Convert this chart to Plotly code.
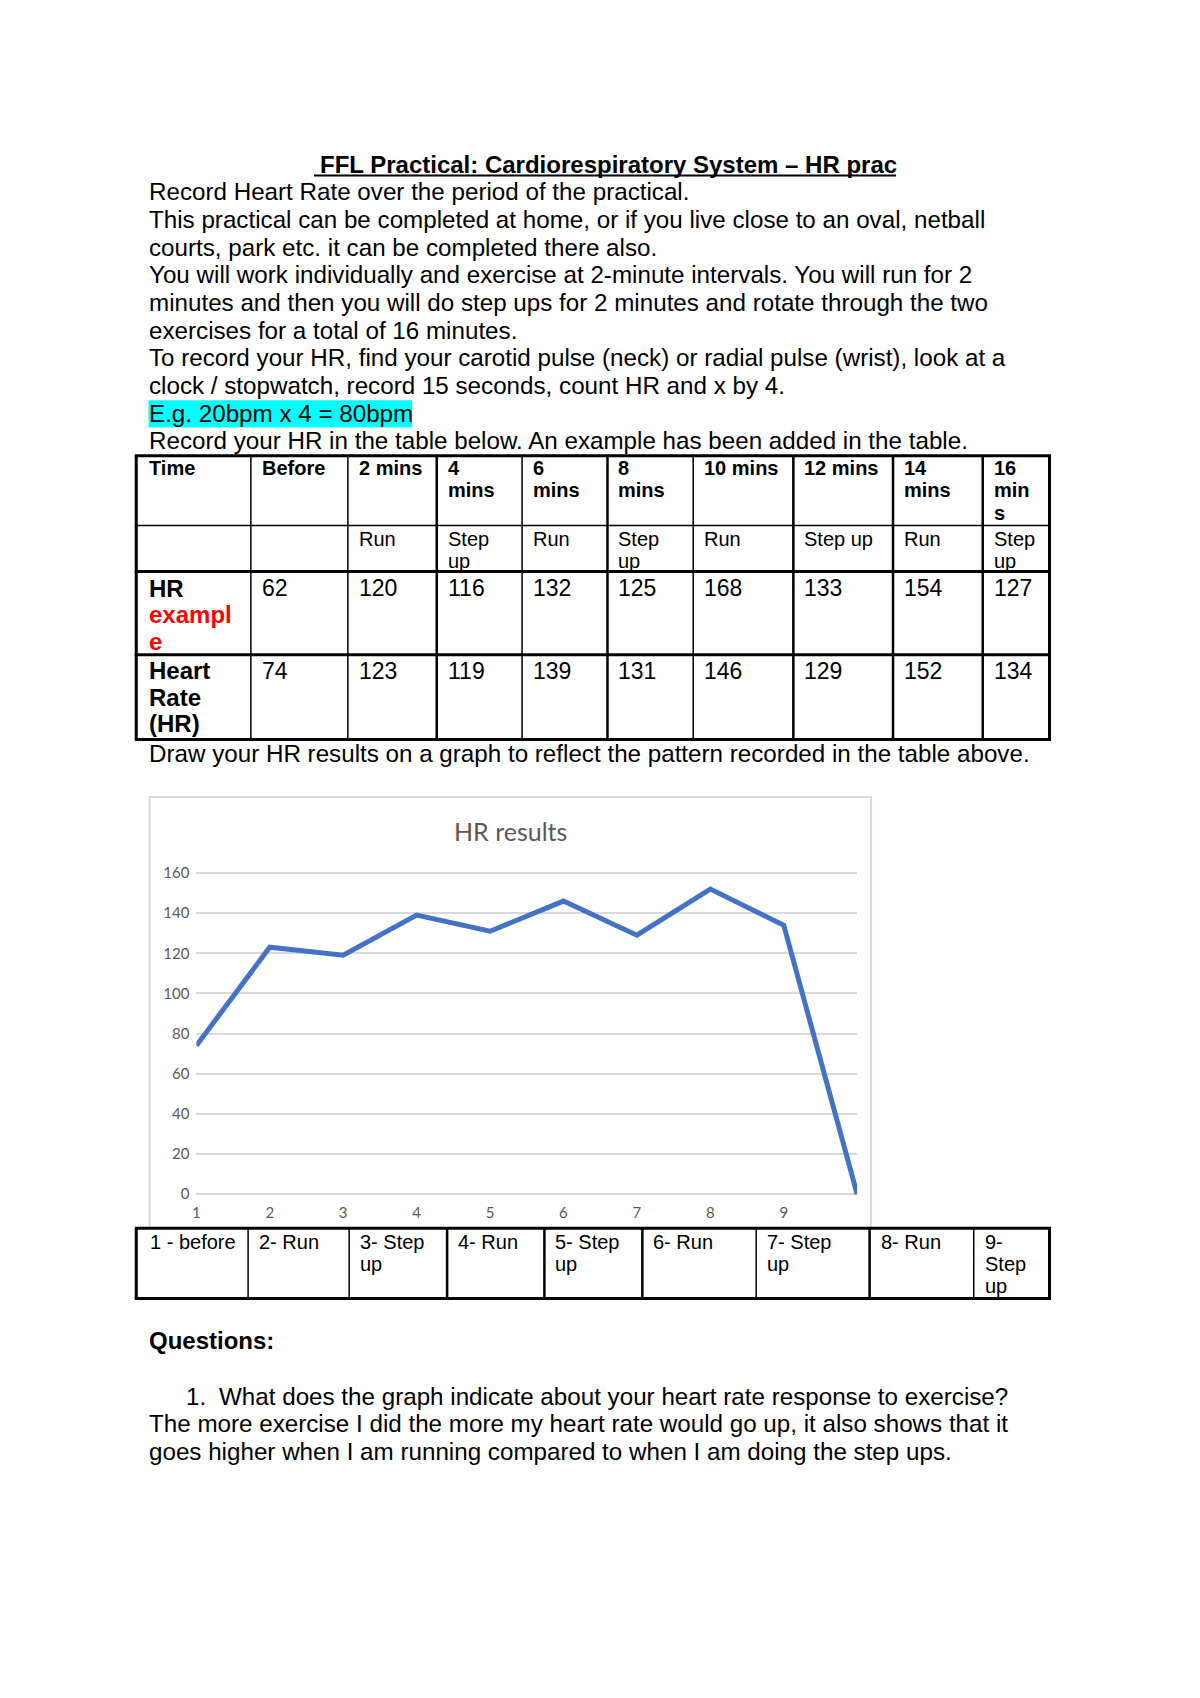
import plotly.graph_objects as go

W, H = 1200, 1698

# ---------------- data ----------------
time_headers = [["Time"], ["Before"], ["2 mins"], ["4", "mins"], ["6", "mins"], ["8", "mins"],
                ["10 mins"], ["12 mins"], ["14", "mins"], ["16", "min", "s"]]
activity = [[], [], ["Run"], ["Step", "up"], ["Run"], ["Step", "up"], ["Run"], ["Step up"], ["Run"], ["Step", "up"]]
example_hr = [62, 120, 116, 132, 125, 168, 133, 154, 127]
heart_rate = [74, 123, 119, 139, 131, 146, 129, 152, 134]

chart_x = [1, 2, 3, 4, 5, 6, 7, 8, 9, 10]
chart_hr = [74, 123, 119, 139, 131, 146, 129, 152, 134, 0]
chart_ticks = [1, 2, 3, 4, 5, 6, 7, 8, 9]
chart_ticktext = ["1", "2", "3", "4", "5", "6", "7", "8", "9"]
y_ticks = [0, 20, 40, 60, 80, 100, 120, 140, 160]

stage_labels = [["1 - before"], ["2- Run"], ["3- Step", "up"], ["4- Run"], ["5- Step", "up"],
                ["6- Run"], ["7- Step", "up"], ["8- Run"], ["9-", "Step", "up"]]

title_text = "FFL Practical: Cardiorespiratory System \u2013 HR prac"
body_lines = [
    "Record Heart Rate over the period of the practical.",
    "This practical can be completed at home, or if you live close to an oval, netball",
    "courts, park etc. it can be completed there also.",
    "You will work individually and exercise at 2-minute intervals. You will run for 2",
    "minutes and then you will do step ups for 2 minutes and rotate through the two",
    "exercises for a total of 16 minutes.",
    "To record your HR, find your carotid pulse (neck) or radial pulse (wrist), look at a",
    "clock / stopwatch, record 15 seconds, count HR and x by 4.",
    "E.g. 20bpm x 4 = 80bpm",
    "Record your HR in the table below. An example has been added in the table.",
]
draw_line = "Draw your HR results on a graph to reflect the pattern recorded in the table above."
question = "What does the graph indicate about your heart rate response to exercise?"
answer_lines = [
    "The more exercise I did the more my heart rate would go up, it also shows that it",
    "goes higher when I am running compared to when I am doing the step ups.",
]

# ---------------- helpers ----------------
BODY = "Liberation Sans, Arial, sans-serif"
CHART_FONT = "Lato, Carlito, sans-serif"
annotations = []
shapes = []


def px(x):
    return x / W


def py(y):
    return 1 - y / H


def txt(x, base, s, size, color="#000000", family=BODY, anchor="left", asc=0.3465):
    annotations.append(dict(
        x=px(x), y=py(base - asc * size), xref="paper", yref="paper", text=s,
        showarrow=False, xanchor=anchor, yanchor="middle", borderpad=0, borderwidth=0,
        font=dict(size=size, color=color, family=family)))


def hline(x0, x1, y, w, color="#000000"):
    shapes.append(dict(type="line", xref="paper", yref="paper", x0=px(x0), x1=px(x1),
                       y0=py(y), y1=py(y), line=dict(color=color, width=w)))


def vline(x, y0, y1, w, color="#000000"):
    shapes.append(dict(type="line", xref="paper", yref="paper", x0=px(x), x1=px(x),
                       y0=py(y0), y1=py(y1), line=dict(color=color, width=w)))


def rect(x0, y0, x1, y1, w=0, color="#000000", fill=None, layer="above"):
    d = dict(type="rect", xref="paper", yref="paper", x0=px(x0), x1=px(x1),
             y0=py(y1), y1=py(y0), layer=layer, line=dict(color=color, width=w))
    if fill:
        d["fillcolor"] = fill
    shapes.append(d)


LEFT = 145.0
BFS = 24.2
LS = 27.9

# ---------------- heading text ----------------
txt(317.5, 166, "<b>" + title_text + "</b>", 24)
hline(311, 895, 169, 2)

rect(145, 395.7, 409.5, 423.3, w=0, color="rgba(0,0,0,0)", fill="#00FFFF", layer="below")
for i, line in enumerate(body_lines):
    txt(LEFT, 194 + i * LS, line, BFS)

# ---------------- table 1 ----------------
cols1 = [132.7, 247.7, 345, 434.2, 519.8, 605.5, 691.5, 792, 892, 982, 1049]
rows1 = [451.7, 522, 568.5, 652.5, 738]
col_w1 = [3, 1.5, 1.5, 2.5, 1.5, 2.5, 1.5, 2.5, 2.5, 2.5, 3]
row_w1 = [3, 1.5, 3, 3, 3]
for x, w in zip(cols1, col_w1):
    vline(x, rows1[0], rows1[-1], w)
for y, w in zip(rows1, row_w1):
    hline(cols1[0] - 1.5, cols1[-1] + 1.5, y, w)

hdr_base = [471, 493.7, 516.4]
act_base = [542.6, 565.3]
r2_base = [593.5, 620.5, 647.5]
r3_base = [676.5, 703.5, 730.5]


def cell_x(cols, j):
    return cols[j] + (13 if j == 0 else 11)


for j, lines in enumerate(time_headers):
    for k, s in enumerate(lines):
        txt(cell_x(cols1, j), hdr_base[k], "<b>" + s + "</b>", 20)
for j, lines in enumerate(activity):
    for k, s in enumerate(lines):
        txt(cell_x(cols1, j), act_base[k], s, 20)

txt(cell_x(cols1, 0), r2_base[0], "<b>HR</b>", 24)
txt(cell_x(cols1, 0), r2_base[1], "<b>exampl</b>", 24, color="#FF0000")
txt(cell_x(cols1, 0), r2_base[2], "<b>e</b>", 24, color="#FF0000")
for k, s in enumerate(["Heart", "Rate", "(HR)"]):
    txt(cell_x(cols1, 0), r3_base[k], "<b>" + s + "</b>", 24)
for j, v in enumerate(example_hr):
    txt(cell_x(cols1, j + 1), r2_base[0], str(v), 23)
for j, v in enumerate(heart_rate):
    txt(cell_x(cols1, j + 1), r3_base[0], str(v), 23)

txt(LEFT, 761, draw_line, BFS)

# ---------------- chart frame & title ----------------
rect(146, 796, 870, 1231, w=2, color="#D9D9D9", layer="below")
txt(508, 830, "HR results", 25, color="#595959", family=CHART_FONT, anchor="center", asc=0.0)

# ---------------- table 2 ----------------
cols2 = [132.7, 244.9, 346.3, 444.6, 542.2, 640.5, 754.7, 868.5, 973, 1049]
col_w2 = [3, 1.5, 1.5, 2.5, 2.5, 2.5, 1.5, 2.5, 1.5, 3]
rows2 = [1231, 1302]
for x, w in zip(cols2, col_w2):
    vline(x, rows2[0], rows2[-1], w)
for y in rows2:
    hline(cols2[0] - 1.5, cols2[-1] + 1.5, y, 3)
t2_base = [1251.5, 1274, 1296.5]
for j, lines in enumerate(stage_labels):
    for k, s in enumerate(lines):
        txt(cols2[j] + (13.5 if j == 0 else 11), t2_base[k], s, 20)

# ---------------- questions ----------------
txt(LEFT, 1353, "<b>Questions:</b>", 24)
txt(182.5, 1409, "1.", BFS)
txt(216, 1409, question, BFS)
for i, line in enumerate(answer_lines):
    txt(LEFT, 1436.5 + i * LS, line, BFS)

# ---------------- chart trace ----------------
fig = go.Figure()
fig.add_trace(go.Scatter(
    x=chart_x, y=chart_hr, mode="lines", cliponaxis=False,
    line=dict(color="#4472C4", width=5), hoverinfo="skip"))

# y range padded slightly so that the 0 and 160 gridlines are drawn
YPAD = 0.8
ppu = (1196.7 - 872.7) / 160.0
fig.update_layout(
    width=W, height=H, margin=dict(l=0, r=0, t=0, b=0),
    paper_bgcolor="#FFFFFF", plot_bgcolor="#FFFFFF", showlegend=False,
    xaxis=dict(domain=[px(193), px(856)], range=[1, 10], tickmode="array",
               tickvals=chart_ticks, ticktext=chart_ticktext, showgrid=False,
               zeroline=False, showline=False, ticks="", ticklabelstandoff=6,
               tickfont=dict(family=CHART_FONT, size=15, color="#595959")),
    yaxis=dict(domain=[py(1196.7 + YPAD * ppu), py(872.7 - YPAD * ppu)],
               range=[-YPAD, 160 + YPAD], tickmode="array", tickvals=y_ticks,
               showgrid=True, gridcolor="#D9D9D9", gridwidth=2, zeroline=False,
               showline=False, ticks="", ticklabelstandoff=6,
               tickfont=dict(family=CHART_FONT, size=15, color="#595959")),
    annotations=annotations, shapes=shapes,
)

fig.write_html("out.html", config={"displayModeBar": False},
               post_script="document.body.style.margin='0';document.body.style.overflow='hidden';")
